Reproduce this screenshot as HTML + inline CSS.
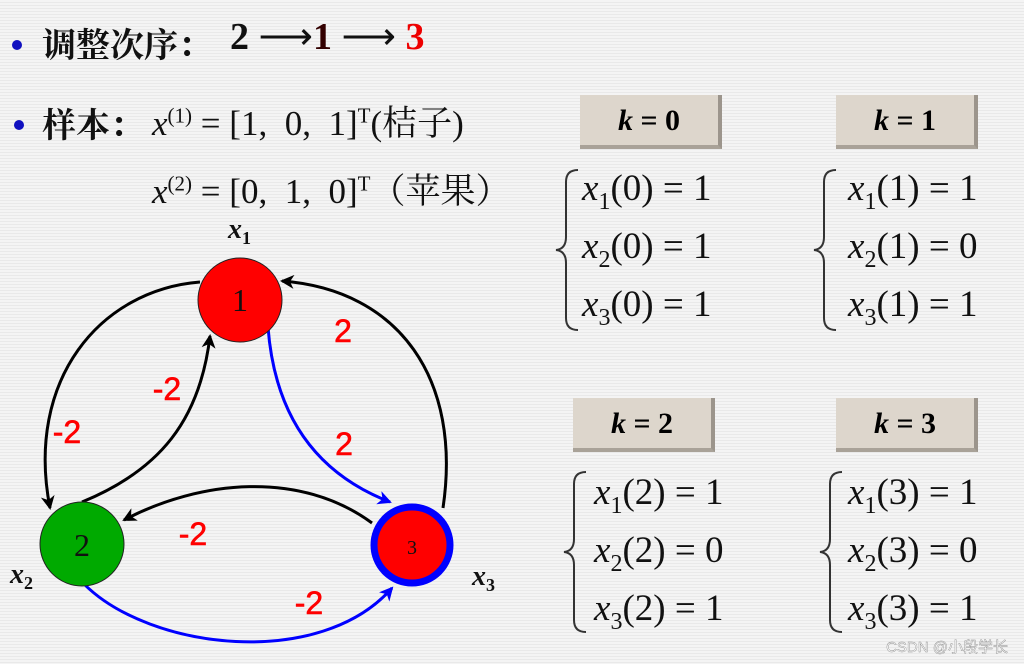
<!DOCTYPE html>
<html><head><meta charset="utf-8"><style>
html,body{margin:0;padding:0}
body{width:1024px;height:664px;overflow:hidden;position:relative;background:repeating-linear-gradient(180deg,#f4f4f4 0 2px,#e9e9e9 2px 3px);font-family:"Liberation Serif","Noto Serif CJK SC",serif;}
.t{position:absolute;white-space:nowrap;color:#111}
.btn{position:absolute;width:142px;height:54px;background:#ddd6cc;border-right:4px solid #9c958c;border-bottom:4px solid #a9a298;box-sizing:border-box;text-align:center;line-height:52px;font-size:30px;font-weight:bold}
.eq{position:absolute;font-size:37px;color:#111;white-space:nowrap}
.eq div{height:58px;line-height:58px}
sub{font-size:24px;vertical-align:-9px;line-height:0}
sup{line-height:0}
</style></head><body>
<div class="t" style="left:12px;top:40px;width:10px;height:10px;border-radius:50%;background:#1010c0"></div>
<div class="t" style="left:42px;top:18px;font-size:34px;font-family:'Noto Serif CJK SC',serif;font-weight:bold">调整次序：</div>
<div class="t" style="left:230px;top:14px;font-size:38px;font-weight:bold">2 <span style="font-weight:normal">⟶</span><span style="color:#300">1</span> <span style="font-weight:normal">⟶</span> <span style="color:#e00">3</span></div>
<div class="t" style="left:14px;top:120px;width:10px;height:10px;border-radius:50%;background:#1010c0"></div>
<div class="t" style="left:42px;top:98px;font-size:34px;font-family:'Noto Serif CJK SC',serif;font-weight:bold">样本：</div>
<div class="t" style="left:152px;top:96px;font-size:35px"><i>x</i><sup style="font-size:21px">(1)</sup> = [1,&nbsp; 0,&nbsp; 1]<sup style="font-size:21px">T</sup>(桔子)</div>
<div class="t" style="left:152px;top:164px;font-size:35px"><i>x</i><sup style="font-size:21px">(2)</sup> = [0,&nbsp; 1,&nbsp; 0]<sup style="font-size:21px">T</sup>（苹果）</div>

<div class="btn" style="left:580px;top:95px"><i>k</i> = 0</div>
<div class="btn" style="left:836px;top:95px"><i>k</i> = 1</div>
<div class="btn" style="left:573px;top:398px"><i>k</i> = 2</div>
<div class="btn" style="left:836px;top:398px"><i>k</i> = 3</div>

<svg width="1024" height="664" style="position:absolute;left:0;top:0" fill="none" stroke="#333" stroke-width="2">
<path d="M578,170 q-12,0 -12,12 v55 q0,12 -10,13 q10,1 10,13 v55 q0,12 12,12"/>
<path d="M836,170 q-12,0 -12,12 v55 q0,12 -10,13 q10,1 10,13 v55 q0,12 12,12"/>
<path d="M586,472 q-12,0 -12,12 v55 q0,12 -10,13 q10,1 10,13 v55 q0,12 12,12"/>
<path d="M842,472 q-12,0 -12,12 v55 q0,12 -10,13 q10,1 10,13 v55 q0,12 12,12"/>
</svg>
<div class="eq" style="left:582px;top:160px"><div><i>x</i><sub>1</sub>(0) = 1</div><div><i>x</i><sub>2</sub>(0) = 1</div><div><i>x</i><sub>3</sub>(0) = 1</div></div>
<div class="eq" style="left:848px;top:160px"><div><i>x</i><sub>1</sub>(1) = 1</div><div><i>x</i><sub>2</sub>(1) = 0</div><div><i>x</i><sub>3</sub>(1) = 1</div></div>
<div class="eq" style="left:594px;top:464px"><div><i>x</i><sub>1</sub>(2) = 1</div><div><i>x</i><sub>2</sub>(2) = 0</div><div><i>x</i><sub>3</sub>(2) = 1</div></div>
<div class="eq" style="left:848px;top:464px"><div><i>x</i><sub>1</sub>(3) = 1</div><div><i>x</i><sub>2</sub>(3) = 0</div><div><i>x</i><sub>3</sub>(3) = 1</div></div>

<svg width="1024" height="664" style="position:absolute;left:0;top:0">
<defs>
<marker id="ab" markerWidth="14" markerHeight="14" refX="12" refY="7" orient="auto" markerUnits="userSpaceOnUse"><path d="M0,0 L14,7 L0,14 L4,7 Z" fill="#000"/></marker>
<marker id="au" markerWidth="14" markerHeight="14" refX="12" refY="7" orient="auto" markerUnits="userSpaceOnUse"><path d="M0,0 L14,7 L0,14 L4,7 Z" fill="#00f"/></marker>
</defs>
<g fill="none" stroke-width="3">
<path d="M200,282 C100,290 25,380 50,508" stroke="#000" marker-end="url(#ab)"/>
<path d="M443,508 C462,380 400,290 282,281" stroke="#000" marker-end="url(#ab)"/>
<path d="M82,502 C160,470 200,420 210,336" stroke="#000" marker-end="url(#ab)"/>
<path d="M268,327 C275,420 320,475 390,502" stroke="#00f" marker-end="url(#au)"/>
<path d="M372,523 C300,470 200,480 124,520" stroke="#000" marker-end="url(#ab)"/>
<path d="M84,584 C150,650 320,670 392,588" stroke="#00f" marker-end="url(#au)"/>
</g>
<circle cx="240" cy="300" r="42" fill="#f00" stroke="#222" stroke-width="1"/>
<circle cx="82" cy="544" r="42" fill="#0a0" stroke="#222" stroke-width="1"/>
<circle cx="412" cy="545" r="38" fill="#f00" stroke="#00f" stroke-width="7"/>
<g font-family="Liberation Serif,serif" font-size="32" text-anchor="middle" fill="#111">
<text x="240" y="311">1</text><text x="82" y="556">2</text><text x="412" y="554" font-size="20">3</text>
</g>
<g font-family="Liberation Serif,serif" font-size="28" font-style="italic" font-weight="bold" fill="#111">
<text x="228" y="238">x<tspan font-size="18" dy="6" font-style="normal">1</tspan></text>
<text x="10" y="583">x<tspan font-size="18" dy="6" font-style="normal">2</tspan></text>
<text x="472" y="585">x<tspan font-size="18" dy="6" font-style="normal">3</tspan></text>
</g>
<g font-family="Liberation Sans,sans-serif" font-size="32" fill="#f00" text-anchor="middle" stroke="#f00" stroke-width="0.6">
<text x="343" y="342">2</text><text x="167" y="400">-2</text><text x="67" y="443">-2</text>
<text x="344" y="455">2</text><text x="193" y="545">-2</text><text x="309" y="614">-2</text>
</g>
<text x="1008" y="652" font-family="Liberation Sans,'Noto Sans CJK SC',sans-serif" font-size="15" fill="#fff" stroke="#888" stroke-width="0.4" text-anchor="end">CSDN @小段学长</text>
</svg>
</body></html>
